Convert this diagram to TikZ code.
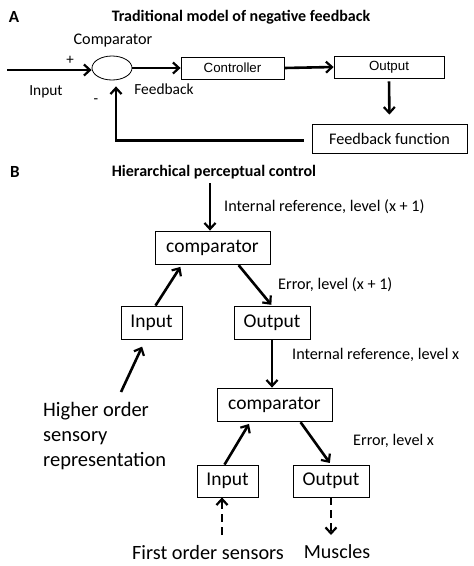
\documentclass[tikz,border=0pt]{standalone}
\usepackage{fontspec}
\setmainfont{Carlito}
\newfontfamily\arialfont{Liberation Sans}
\usetikzlibrary{arrows.meta,shapes.geometric}

\newcommand{\fs}[1]{\fontsize{#1}{#1}\selectfont}

\begin{document}
\begin{tikzpicture}[x=1pt,y=-1pt]

\tikzset{box/.style = {shape=rectangle,draw,line width=0.8pt,inner sep=0pt}}
\tikzset{edge/.style = {-{Straight Barb[length=6pt,width=11pt,line width=2.2pt]},line width=2.6pt}}
\tikzset{lbl/.style = {inner sep=0pt}}

\useasboundingbox (0,0) rectangle (474,566);

% A
\node[lbl,font=\bfseries\fs{17}] (lblA) at (14,17) {A};
\node[lbl,font=\bfseries\fs{16}] (titleA) at (241,17) {Traditional model of negative feedback};

\node[shape=ellipse,draw,line width=0.8pt,minimum width=40pt,minimum height=24pt,inner sep=0pt] (cmpA) at (112,68) {};
\node[lbl,font=\fs{16.2}] (cmpAtxt) at (113,41) {Comparator};
\node[box,minimum width=103pt,minimum height=22pt,font=\arialfont\fs{13.3}] (ctrl) at (232.5,68) {Controller};
\node[box,minimum width=110pt,minimum height=22pt,font=\arialfont\fs{13.3}] (outA) at (389,67) {Output};
\node[box,minimum width=155pt,minimum height=29pt,font=\fs{16.2}] (ffun) at (389.5,138.5) {Feedback function};

\node[lbl,font=\fs{15}] (plus) at (70,60) {+};
\node[lbl,font=\fs{15.4}] (inAtxt) at (46,92) {Input};
\node[lbl,font=\fs{15}] (minus) at (96,101) {-};
\node[lbl,font=\fs{15.4}] (fbAtxt) at (164,89) {Feedback};

\coordinate (inA) at (7,70);
\draw[edge] (inA) -- (inA -| cmpA.west);
\draw[edge] (cmpA.east) -- (ctrl.west);
\draw[edge] (ctrl.east) -- (outA.west);
\draw[edge,shorten <=3pt,shorten >=9pt] (outA.south) -- (ffun.north);
\draw[edge,shorten <=8pt,shorten >=6pt] ([yshift=-2pt]ffun.west) -| ([xshift=4pt]cmpA.south);

% B
\node[lbl,font=\bfseries\fs{17}] (lblB) at (15,172) {B};
\node[lbl,font=\bfseries\fs{16}] (titleB) at (214,172) {Hierarchical perceptual control};

\node[box,minimum width=115pt,minimum height=33pt,font=\fs{19.5}] (comp1) at (212.5,247.5) {comparator};
\node[box,minimum width=61pt,minimum height=33pt,font=\fs{19.5}] (in1) at (151.5,322.5) {Input};
\node[box,minimum width=76pt,minimum height=33pt,font=\fs{19.5}] (out1) at (272,322.5) {Output};
\node[box,minimum width=115pt,minimum height=33pt,font=\fs{19.5}] (comp2) at (274.5,404.5) {comparator};
\node[box,minimum width=61pt,minimum height=32pt,font=\fs{19.5}] (in2) at (227.5,481) {Input};
\node[box,minimum width=76pt,minimum height=32pt,font=\fs{19.5}] (out2) at (331,481) {Output};

\node[lbl,anchor=west,font=\fs{16.2}] (ref1) at (224,207) {Internal reference, level (x + 1)};
\node[lbl,anchor=west,font=\fs{16.2}] (err1) at (278,285) {Error, level (x + 1)};
\node[lbl,anchor=west,font=\fs{16.2}] (ref2) at (292,355) {Internal reference, level x};
\node[lbl,anchor=west,font=\fs{16.2}] (err2) at (353,441) {Error, level x};
\node[lbl,anchor=north west,align=left,font=\fontsize{20.5}{25}\selectfont] (hos) at (43,402) {Higher order\\sensory\\representation};
\node[lbl,font=\fs{20.3}] (fos) at (208,553) {First order sensors};
\node[lbl,font=\fs{20}] (mus) at (337,552) {Muscles};

\coordinate (topB) at (210,183);
\coordinate (hosB) at (121,392);
\coordinate (fosB) at (222,535);
\coordinate (musB) at (331,535);

\draw[edge] (topB) -- (topB |- comp1.north);
\draw[edge,shorten >=3pt] ([xshift=4pt]in1.north) -- ([xshift=-30.5pt]comp1.south);
\draw[edge,shorten <=1pt,shorten >=1pt] ([xshift=25.5pt]comp1.south) -- (out1.north);
\draw[edge] (out1.south) -- (out1.south |- comp2.north);
\draw[edge,shorten >=8pt] (hosB) -- ([xshift=-6pt]in1.south);
\draw[edge,shorten >=3pt] ([xshift=-3pt]in2.north) -- ([xshift=-24pt]comp2.south);
\draw[edge,shorten <=1pt,shorten >=2pt] ([xshift=25.5pt]comp2.south) -- (out2.north);
\draw[edge,dashed,dash pattern=on 8pt off 5pt] (fosB) -- (fosB |- in2.south);
\draw[edge,dashed,dash pattern=on 8pt off 5pt] (out2.south) -- (musB);

\end{tikzpicture}
\end{document}
